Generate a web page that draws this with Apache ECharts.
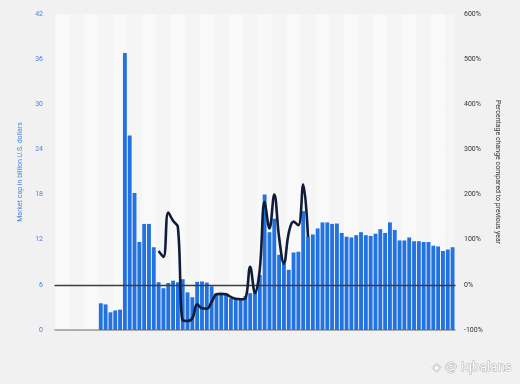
<!DOCTYPE html>
<html>
<head>
<meta charset="utf-8">
<script src="https://cdn.jsdelivr.net/npm/echarts@6/dist/echarts.min.js"></script>
<style>html,body{margin:0;padding:0;background:#f1f1f1;}#c{width:520px;height:384px;}</style>
</head>
<body>
<div id="c"></div>
<script>
// 83 category slots; the first 9 are empty (no data drawn there)
const emptyLead = 9;
const marketCapValues = [
  3.55, 3.4, 2.35, 2.6, 2.7, 36.8, 25.85, 18.2, 11.7, 14.1,
  14.1, 11.0, 6.35, 5.55, 6.25, 6.55, 6.35, 6.75, 5.0, 4.35,
  6.4, 6.45, 6.3, 5.8, 4.9, 4.9, 4.8, 4.2, 4.1, 4.0,
  4.5, 4.9, 5.1, 7.3, 18.0, 13.0, 14.8, 10.0, 8.8, 8.0,
  10.3, 10.4, 15.8, 12.4, 12.7, 13.5, 14.3, 14.3, 14.1, 14.15,
  12.9, 12.4, 12.3, 12.6, 13.0, 12.6, 12.5, 12.8, 13.4, 12.9,
  14.3, 13.3, 11.9, 11.9, 12.3, 11.8, 11.8, 11.7, 11.7, 11.2,
  11.1, 10.5, 10.7, 11.0
];
// percentage change, starting at the 13th bar
const pctLead = 12;
const pctChangeValues = [
  75, 62, 160, 142, 128, -79, -80, -74, -43, -52,
  -53, -38, -21, -20, -21, -27, -31, -32, -30, 40,
  -18, 35, 184, 125, 200, 105, 47, 115, 140, 132,
  222, 106
];
const leftTicks = {min: 0, max: 42, interval: 6};
const rightTicks = {min: -100, max: 600, interval: 100};

const total = emptyLead + marketCapValues.length;
const categories = Array.from({length: total}, (_, i) => String(i + 1));
const barData = Array(emptyLead).fill(null).concat(marketCapValues);
const lineData = Array(emptyLead + pctLead).fill(null).concat(pctChangeValues);
while (lineData.length < total) lineData.push(null);

const chart = echarts.init(document.getElementById('c'), null, {renderer: 'canvas'});
const font = 'Roboto, "Noto Sans", sans-serif';
chart.setOption({
  backgroundColor: '#f1f1f1',
  animation: false,
  textStyle: {fontFamily: font},
  grid: {left: 55, right: 65, top: 14, bottom: 54},
  xAxis: [
    {
      type: 'category',
      data: categories,
      boundaryGap: true,
      axisLabel: {show: false},
      axisTick: {show: false},
      axisLine: {show: true, onZero: false, lineStyle: {color: '#9a9a9a', width: 1.5}},
      splitArea: {show: true, interval: 2, areaStyle: {color: ['#f9f9f9', '#f5f5f5']}}
    },
    {
      // zero line of the percentage axis, drawn above the bars
      type: 'category',
      data: categories,
      position: 'bottom',
      z: 10,
      axisLabel: {show: false},
      axisTick: {show: false},
      axisLine: {show: true, onZero: true, onZeroAxisIndex: 1, lineStyle: {color: '#3c3c3c', width: 1.4}},
      splitArea: {show: false}, splitLine: {show: false}
    }
  ],
  yAxis: [
    {
      type: 'value', min: leftTicks.min, max: leftTicks.max, interval: leftTicks.interval,
      name: 'Market cap in billion U.S. dollars',
      nameLocation: 'middle', nameGap: 21, nameRotate: 90,
      nameTextStyle: {color: '#4a84e0', fontSize: 7, fontFamily: font},
      axisLabel: {color: '#4a84e0', fontSize: 7, margin: 12, fontFamily: font},
      axisLine: {show: false}, axisTick: {show: false},
      splitLine: {show: true, lineStyle: {color: '#dadada', type: [3, 2], width: 1}}
    },
    {
      type: 'value', min: rightTicks.min, max: rightTicks.max, interval: rightTicks.interval,
      name: 'Percentage change compared to previous year',
      nameLocation: 'middle', nameGap: 39, nameRotate: -90,
      nameTextStyle: {color: '#333', fontSize: 7, fontFamily: font},
      axisLabel: {color: '#333', fontSize: 7, margin: 9, formatter: '{value}%', fontFamily: font},
      axisLine: {show: false}, axisTick: {show: false},
      splitLine: {show: false}
    }
  ],
  series: [
    {
      type: 'bar', xAxisIndex: 0, yAxisIndex: 0, data: barData,
      barCategoryGap: '20%',
      itemStyle: {color: '#2272e2'}
    },
    {
      type: 'line', xAxisIndex: 1, yAxisIndex: 1, data: lineData,
      smooth: 0.4, symbol: 'none', connectNulls: false,
      lineStyle: {color: '#0f1d38', width: 2.6},
      z: 12
    }
  ],
  graphic: [
    {
      type: 'text', right: 8, top: 361,
      style: {text: '◈ @ Iqbalans', fill: '#ffffff', stroke: '#a8a8a8', lineWidth: 0.9,
        font: '12px "DejaVu Sans", sans-serif'}
    }
  ]
});
</script>
</body>
</html>
